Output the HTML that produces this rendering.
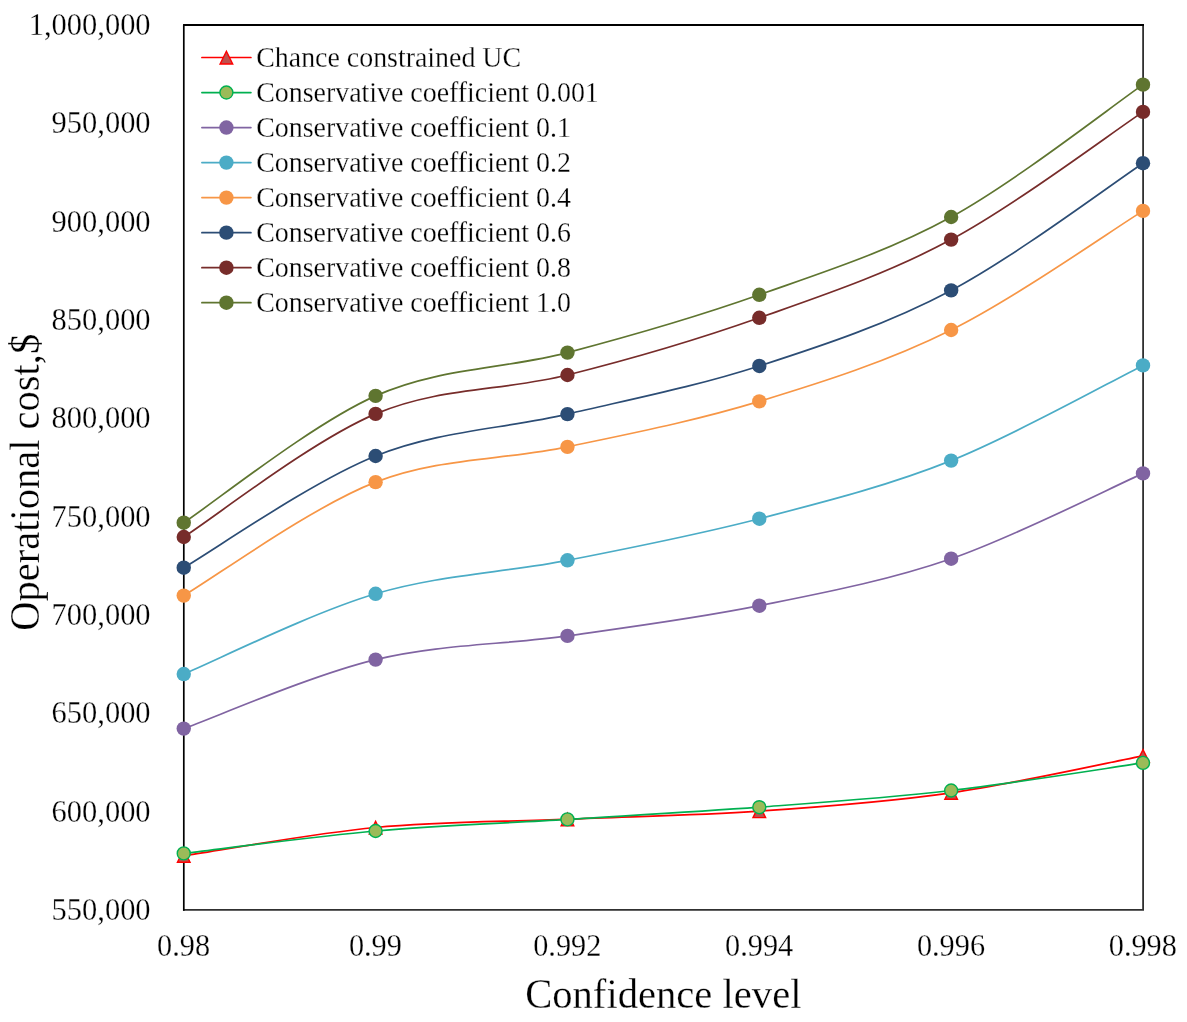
<!DOCTYPE html>
<html><head><meta charset="utf-8"><title>Operational cost vs confidence level</title>
<style>
html,body{margin:0;padding:0;background:#fff;}
body{width:1187px;height:1022px;overflow:hidden;}
svg{display:block;font-family:"Liberation Serif",serif;font-variant-ligatures:none;fill:#000;}
text{stroke:#fff;stroke-width:0.25px;}
.tick{font-size:30px;}
.title{font-size:40.5px;}
.leg{font-size:27.9px;}
</style></head><body>
<svg width="1187" height="1022" viewBox="0 0 1187 1022">
<rect x="0" y="0" width="1187" height="1022" fill="#ffffff"/>

<path d="M1143.10 24.10 L1143.10 909.90 L183.00 909.90" fill="none" stroke="#303030" stroke-width="1.8" stroke-linejoin="miter"/>
<path d="M183.05 25.00 L1144.00 25.00" fill="none" stroke="#000000" stroke-width="1.9"/>
<path d="M183.80 25.00 L183.80 910.80" fill="none" stroke="#000000" stroke-width="1.7"/>
<text class="tick" transform="translate(150.6 35.00) scale(1.016 1.055)" text-anchor="end">1,000,000</text>
<text class="tick" transform="translate(150.6 133.32) scale(1.016 1.055)" text-anchor="end">950,000</text>
<text class="tick" transform="translate(150.6 231.64) scale(1.016 1.055)" text-anchor="end">900,000</text>
<text class="tick" transform="translate(150.6 329.97) scale(1.016 1.055)" text-anchor="end">850,000</text>
<text class="tick" transform="translate(150.6 428.29) scale(1.016 1.055)" text-anchor="end">800,000</text>
<text class="tick" transform="translate(150.6 526.61) scale(1.016 1.055)" text-anchor="end">750,000</text>
<text class="tick" transform="translate(150.6 624.93) scale(1.016 1.055)" text-anchor="end">700,000</text>
<text class="tick" transform="translate(150.6 723.26) scale(1.016 1.055)" text-anchor="end">650,000</text>
<text class="tick" transform="translate(150.6 821.58) scale(1.016 1.055)" text-anchor="end">600,000</text>
<text class="tick" transform="translate(150.6 919.90) scale(1.016 1.055)" text-anchor="end">550,000</text>
<text class="tick" transform="translate(183.55 955.8) scale(1.01 1.045)" text-anchor="middle">0.98</text>
<text class="tick" transform="translate(375.40 955.8) scale(1.01 1.045)" text-anchor="middle">0.99</text>
<text class="tick" transform="translate(567.25 955.8) scale(1.01 1.045)" text-anchor="middle">0.992</text>
<text class="tick" transform="translate(759.10 955.8) scale(1.01 1.045)" text-anchor="middle">0.994</text>
<text class="tick" transform="translate(950.95 955.8) scale(1.01 1.045)" text-anchor="middle">0.996</text>
<text class="tick" transform="translate(1142.80 955.8) scale(1.01 1.045)" text-anchor="middle">0.998</text>
<text class="title" transform="translate(663.3 1008.3) scale(1.003 1.05)" text-anchor="middle">Confidence level</text>
<text class="title" transform="translate(39.0 482.3) rotate(-90) scale(1 1.05)" text-anchor="middle">Operational cost,$</text>
<path d="M183.75 855.80 C215.72 851.08 311.65 833.60 375.60 827.50 C439.55 821.40 503.50 821.93 567.45 819.20 C631.40 816.47 695.35 815.50 759.30 811.10 C823.25 806.70 887.20 802.02 951.15 792.80 C1015.10 783.58 1111.03 761.97 1143.00 755.80" fill="none" stroke="#ff0000" stroke-width="1.70" stroke-linecap="round"/>
<path d="M183.75 849.60 L190.05 862.30 L177.45 862.30 Z" fill="#c0504d" stroke="#ff0000" stroke-width="1.4" stroke-linejoin="miter"/>
<path d="M375.60 821.30 L381.90 834.00 L369.30 834.00 Z" fill="#c0504d" stroke="#ff0000" stroke-width="1.4" stroke-linejoin="miter"/>
<path d="M567.45 813.00 L573.75 825.70 L561.15 825.70 Z" fill="#c0504d" stroke="#ff0000" stroke-width="1.4" stroke-linejoin="miter"/>
<path d="M759.30 804.90 L765.60 817.60 L753.00 817.60 Z" fill="#c0504d" stroke="#ff0000" stroke-width="1.4" stroke-linejoin="miter"/>
<path d="M951.15 786.60 L957.45 799.30 L944.85 799.30 Z" fill="#c0504d" stroke="#ff0000" stroke-width="1.4" stroke-linejoin="miter"/>
<path d="M1143.00 749.60 L1149.30 762.30 L1136.70 762.30 Z" fill="#c0504d" stroke="#ff0000" stroke-width="1.4" stroke-linejoin="miter"/>
<path d="M183.75 853.40 C215.72 849.67 311.65 836.67 375.60 831.00 C439.55 825.33 503.50 823.37 567.45 819.40 C631.40 815.43 695.35 812.02 759.30 807.20 C823.25 802.38 887.20 797.88 951.15 790.50 C1015.10 783.12 1111.03 767.50 1143.00 762.90" fill="none" stroke="#00b050" stroke-width="1.70" stroke-linecap="round"/>
<circle cx="183.75" cy="853.40" r="6.5" fill="#9bbb59" stroke="#00b050" stroke-width="1.4"/>
<circle cx="375.60" cy="831.00" r="6.5" fill="#9bbb59" stroke="#00b050" stroke-width="1.4"/>
<circle cx="567.45" cy="819.40" r="6.5" fill="#9bbb59" stroke="#00b050" stroke-width="1.4"/>
<circle cx="759.30" cy="807.20" r="6.5" fill="#9bbb59" stroke="#00b050" stroke-width="1.4"/>
<circle cx="951.15" cy="790.50" r="6.5" fill="#9bbb59" stroke="#00b050" stroke-width="1.4"/>
<circle cx="1143.00" cy="762.90" r="6.5" fill="#9bbb59" stroke="#00b050" stroke-width="1.4"/>
<path d="M183.75 728.60 C215.72 717.10 311.65 675.05 375.60 659.60 C439.55 644.15 503.50 644.88 567.45 635.90 C631.40 626.92 695.35 618.57 759.30 605.70 C823.25 592.83 887.20 580.75 951.15 558.70 C1015.10 536.65 1111.03 487.62 1143.00 473.40" fill="none" stroke="#8064a2" stroke-width="1.70" stroke-linecap="round"/>
<circle cx="183.75" cy="728.60" r="7.2" fill="#8064a2"/>
<circle cx="375.60" cy="659.60" r="7.2" fill="#8064a2"/>
<circle cx="567.45" cy="635.90" r="7.2" fill="#8064a2"/>
<circle cx="759.30" cy="605.70" r="7.2" fill="#8064a2"/>
<circle cx="951.15" cy="558.70" r="7.2" fill="#8064a2"/>
<circle cx="1143.00" cy="473.40" r="7.2" fill="#8064a2"/>
<path d="M183.75 674.05 C215.72 660.67 311.65 612.76 375.60 593.80 C439.55 574.84 503.50 572.82 567.45 560.30 C631.40 547.78 695.35 535.32 759.30 518.70 C823.25 502.08 887.20 486.15 951.15 460.60 C1015.10 435.05 1111.03 381.27 1143.00 365.40" fill="none" stroke="#4bacc6" stroke-width="1.70" stroke-linecap="round"/>
<circle cx="183.75" cy="674.05" r="7.2" fill="#4bacc6"/>
<circle cx="375.60" cy="593.80" r="7.2" fill="#4bacc6"/>
<circle cx="567.45" cy="560.30" r="7.2" fill="#4bacc6"/>
<circle cx="759.30" cy="518.70" r="7.2" fill="#4bacc6"/>
<circle cx="951.15" cy="460.60" r="7.2" fill="#4bacc6"/>
<circle cx="1143.00" cy="365.40" r="7.2" fill="#4bacc6"/>
<path d="M183.75 595.60 C215.72 576.69 311.65 506.94 375.60 482.15 C439.55 457.36 503.50 460.31 567.45 446.85 C631.40 433.39 695.35 420.88 759.30 401.40 C823.25 381.92 887.20 361.75 951.15 330.00 C1015.10 298.25 1111.03 230.75 1143.00 210.90" fill="none" stroke="#f79646" stroke-width="1.70" stroke-linecap="round"/>
<circle cx="183.75" cy="595.60" r="7.2" fill="#f79646"/>
<circle cx="375.60" cy="482.15" r="7.2" fill="#f79646"/>
<circle cx="567.45" cy="446.85" r="7.2" fill="#f79646"/>
<circle cx="759.30" cy="401.40" r="7.2" fill="#f79646"/>
<circle cx="951.15" cy="330.00" r="7.2" fill="#f79646"/>
<circle cx="1143.00" cy="210.90" r="7.2" fill="#f79646"/>
<path d="M183.75 567.70 C215.72 549.08 311.65 481.60 375.60 456.00 C439.55 430.40 503.50 429.11 567.45 414.10 C631.40 399.09 695.35 386.57 759.30 365.95 C823.25 345.33 887.20 324.19 951.15 290.40 C1015.10 256.61 1111.03 184.40 1143.00 163.20" fill="none" stroke="#2c4d75" stroke-width="1.70" stroke-linecap="round"/>
<circle cx="183.75" cy="567.70" r="7.2" fill="#2c4d75"/>
<circle cx="375.60" cy="456.00" r="7.2" fill="#2c4d75"/>
<circle cx="567.45" cy="414.10" r="7.2" fill="#2c4d75"/>
<circle cx="759.30" cy="365.95" r="7.2" fill="#2c4d75"/>
<circle cx="951.15" cy="290.40" r="7.2" fill="#2c4d75"/>
<circle cx="1143.00" cy="163.20" r="7.2" fill="#2c4d75"/>
<path d="M183.75 537.00 C215.72 516.48 311.65 440.90 375.60 413.90 C439.55 386.90 503.50 391.02 567.45 375.00 C631.40 358.98 695.35 340.37 759.30 317.80 C823.25 295.23 887.20 273.92 951.15 239.60 C1015.10 205.28 1111.03 133.18 1143.00 111.90" fill="none" stroke="#772c2a" stroke-width="1.70" stroke-linecap="round"/>
<circle cx="183.75" cy="537.00" r="7.2" fill="#772c2a"/>
<circle cx="375.60" cy="413.90" r="7.2" fill="#772c2a"/>
<circle cx="567.45" cy="375.00" r="7.2" fill="#772c2a"/>
<circle cx="759.30" cy="317.80" r="7.2" fill="#772c2a"/>
<circle cx="951.15" cy="239.60" r="7.2" fill="#772c2a"/>
<circle cx="1143.00" cy="111.90" r="7.2" fill="#772c2a"/>
<path d="M183.75 522.70 C215.72 501.56 311.65 424.20 375.60 395.85 C439.55 367.50 503.50 369.44 567.45 352.60 C631.40 335.76 695.35 317.40 759.30 294.80 C823.25 272.20 887.20 252.02 951.15 217.00 C1015.10 181.98 1111.03 106.72 1143.00 84.66" fill="none" stroke="#5f7530" stroke-width="1.70" stroke-linecap="round"/>
<circle cx="183.75" cy="522.70" r="7.2" fill="#5f7530"/>
<circle cx="375.60" cy="395.85" r="7.2" fill="#5f7530"/>
<circle cx="567.45" cy="352.60" r="7.2" fill="#5f7530"/>
<circle cx="759.30" cy="294.80" r="7.2" fill="#5f7530"/>
<circle cx="951.15" cy="217.00" r="7.2" fill="#5f7530"/>
<circle cx="1143.00" cy="84.66" r="7.2" fill="#5f7530"/>
<path d="M201.9 57.50 L250.9 57.50" stroke="#ff0000" stroke-width="1.70" stroke-linecap="round" fill="none"/>
<path d="M226.40 51.30 L232.70 64.00 L220.10 64.00 Z" fill="#c0504d" stroke="#ff0000" stroke-width="1.4" stroke-linejoin="miter"/>
<text class="leg" transform="translate(256.2 66.70) scale(1 1.04)">Chance constrained UC</text>
<path d="M201.9 92.53 L250.9 92.53" stroke="#00b050" stroke-width="1.70" stroke-linecap="round" fill="none"/>
<circle cx="226.40" cy="92.53" r="6.5" fill="#9bbb59" stroke="#00b050" stroke-width="1.4"/>
<text class="leg" transform="translate(256.2 101.73) scale(1 1.04)">Conservative coefficient 0.001</text>
<path d="M201.9 127.56 L250.9 127.56" stroke="#8064a2" stroke-width="1.70" stroke-linecap="round" fill="none"/>
<circle cx="226.40" cy="127.56" r="7.2" fill="#8064a2"/>
<text class="leg" transform="translate(256.2 136.76) scale(1 1.04)">Conservative coefficient 0.1</text>
<path d="M201.9 162.59 L250.9 162.59" stroke="#4bacc6" stroke-width="1.70" stroke-linecap="round" fill="none"/>
<circle cx="226.40" cy="162.59" r="7.2" fill="#4bacc6"/>
<text class="leg" transform="translate(256.2 171.79) scale(1 1.04)">Conservative coefficient 0.2</text>
<path d="M201.9 197.62 L250.9 197.62" stroke="#f79646" stroke-width="1.70" stroke-linecap="round" fill="none"/>
<circle cx="226.40" cy="197.62" r="7.2" fill="#f79646"/>
<text class="leg" transform="translate(256.2 206.82) scale(1 1.04)">Conservative coefficient 0.4</text>
<path d="M201.9 232.65 L250.9 232.65" stroke="#2c4d75" stroke-width="1.70" stroke-linecap="round" fill="none"/>
<circle cx="226.40" cy="232.65" r="7.2" fill="#2c4d75"/>
<text class="leg" transform="translate(256.2 241.85) scale(1 1.04)">Conservative coefficient 0.6</text>
<path d="M201.9 267.68 L250.9 267.68" stroke="#772c2a" stroke-width="1.70" stroke-linecap="round" fill="none"/>
<circle cx="226.40" cy="267.68" r="7.2" fill="#772c2a"/>
<text class="leg" transform="translate(256.2 276.88) scale(1 1.04)">Conservative coefficient 0.8</text>
<path d="M201.9 302.71 L250.9 302.71" stroke="#5f7530" stroke-width="1.70" stroke-linecap="round" fill="none"/>
<circle cx="226.40" cy="302.71" r="7.2" fill="#5f7530"/>
<text class="leg" transform="translate(256.2 311.91) scale(1 1.04)">Conservative coefficient 1.0</text>
</svg></body></html>
